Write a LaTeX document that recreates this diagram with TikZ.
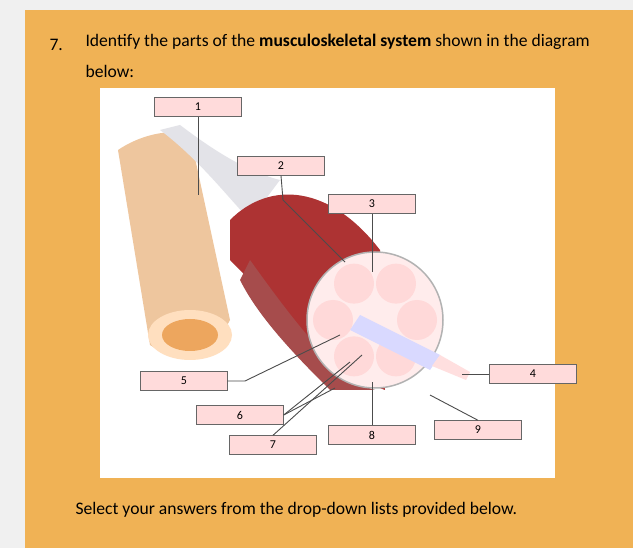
\documentclass[tikz,border=0pt]{standalone}
\usepackage{fontspec}
\setmainfont{Carlito}
\definecolor{pageor}{RGB}{240,178,85}
\begin{document}
\begin{tikzpicture}[x=1pt,y=-1pt,
  lbl/.style={draw=black!60,fill=pink!80!red!35,minimum width=87pt,minimum height=19pt,inner sep=0pt,font=\fontsize{12}{14}\selectfont},
  lead/.style={draw=black!70,line width=0.9pt},
  big/.style={font=\fontsize{17.6}{20}\selectfont}]
\useasboundingbox (0,0) rectangle (633,548);
\fill[gray!12] (0,0) rectangle (633,548);
\fill[pageor] (25,10) rectangle (633,548);
\fill[white] (100,88) rectangle (555,478);
\node[anchor=west,big] (n7) at (46,45) {7.};
\node[anchor=west,big] (t1) at (82,42) {Identify the parts of the \textbf{musculoskeletal system} shown in the diagram};
\node[anchor=west,big] (t2) at (82,71) {below:};
\node[anchor=west,big] (t3) at (72,510) {Select your answers from the drop-down lists provided below.};
% bone
\fill[orange!40!brown!45] (118,150) .. controls (140,135) and (170,128) .. (190,135) -- (230,320) .. controls (215,350) and (170,360) .. (150,345) -- cycle;
\fill[orange!25!white] (190,335) ellipse (42 and 25);
\fill[orange!60!brown!70] (190,335) ellipse (28 and 16);
% tendon
\fill[blue!10!gray!20] (160,130) .. controls (200,160) and (230,200) .. (250,220) -- (280,180) .. controls (240,170) and (200,140) .. (180,125) -- cycle;
% muscle
\fill[red!60!black!80] (230,220) .. controls (270,180) and (330,185) .. (380,250) -- (385,390) .. controls (330,370) and (270,300) .. (230,260) -- cycle;
\fill[red!50!black!70] (250,260) .. controls (300,330) and (340,380) .. (375,390) -- (330,390) .. controls (300,360) and (260,320) .. (240,280) -- cycle;
% cross-section
\fill[pink!30] (375,320) circle (68);
\draw[gray!60,line width=1.5pt] (375,320) circle (68);
\foreach \a in {0,60,...,300}{\fill[pink!60] (375,320) ++(\a:42) circle (20);}
\fill[blue!15] (360,315) -- (440,355) -- (430,370) -- (350,330) -- cycle;
\fill[pink!50] (440,355) -- (470,372) -- (466,380) -- (432,366) -- cycle;
\node[lbl] (b1) at (198,107) {1};
\node[lbl] (b2) at (281,166) {2};
\node[lbl] (b3) at (372,204) {3};
\node[lbl] (b4) at (533,374) {4};
\node[lbl] (b5) at (184,381) {5};
\node[lbl] (b6) at (240,415) {6};
\node[lbl] (b7) at (273,445) {7};
\node[lbl] (b8) at (372,435) {8};
\node[lbl] (b9) at (478,430) {9};
\coordinate (e1) at (198,195);
\coordinate (k2) at (283,200);
\coordinate (e2) at (345,262);
\coordinate (e3) at (372,272);
\coordinate (e4) at (462,374);
\coordinate (k5) at (245,381);
\coordinate (e5) at (340,335);
\coordinate (e6a) at (335,388);
\coordinate (e6b) at (350,362);
\coordinate (e7) at (362,355);
\coordinate (e8) at (372,382);
\coordinate (e9) at (430,395);
\draw[lead] (b1.south) -- (e1);
\draw[lead] (b2.south) -- (k2) -- (e2);
\draw[lead] (b3.south) -- (e3);
\draw[lead] (b4.west) -- (e4);
\draw[lead] (b5.east) -- (k5) -- (e5);
\draw[lead] (b6.east) -- (e6a);
\draw[lead] (b6.east) -- (e6b);
\draw[lead] (b7.north) -- (e7);
\draw[lead] (b8.north) -- (e8);
\draw[lead] (b9.north) -- (e9);
\end{tikzpicture}
\end{document}
